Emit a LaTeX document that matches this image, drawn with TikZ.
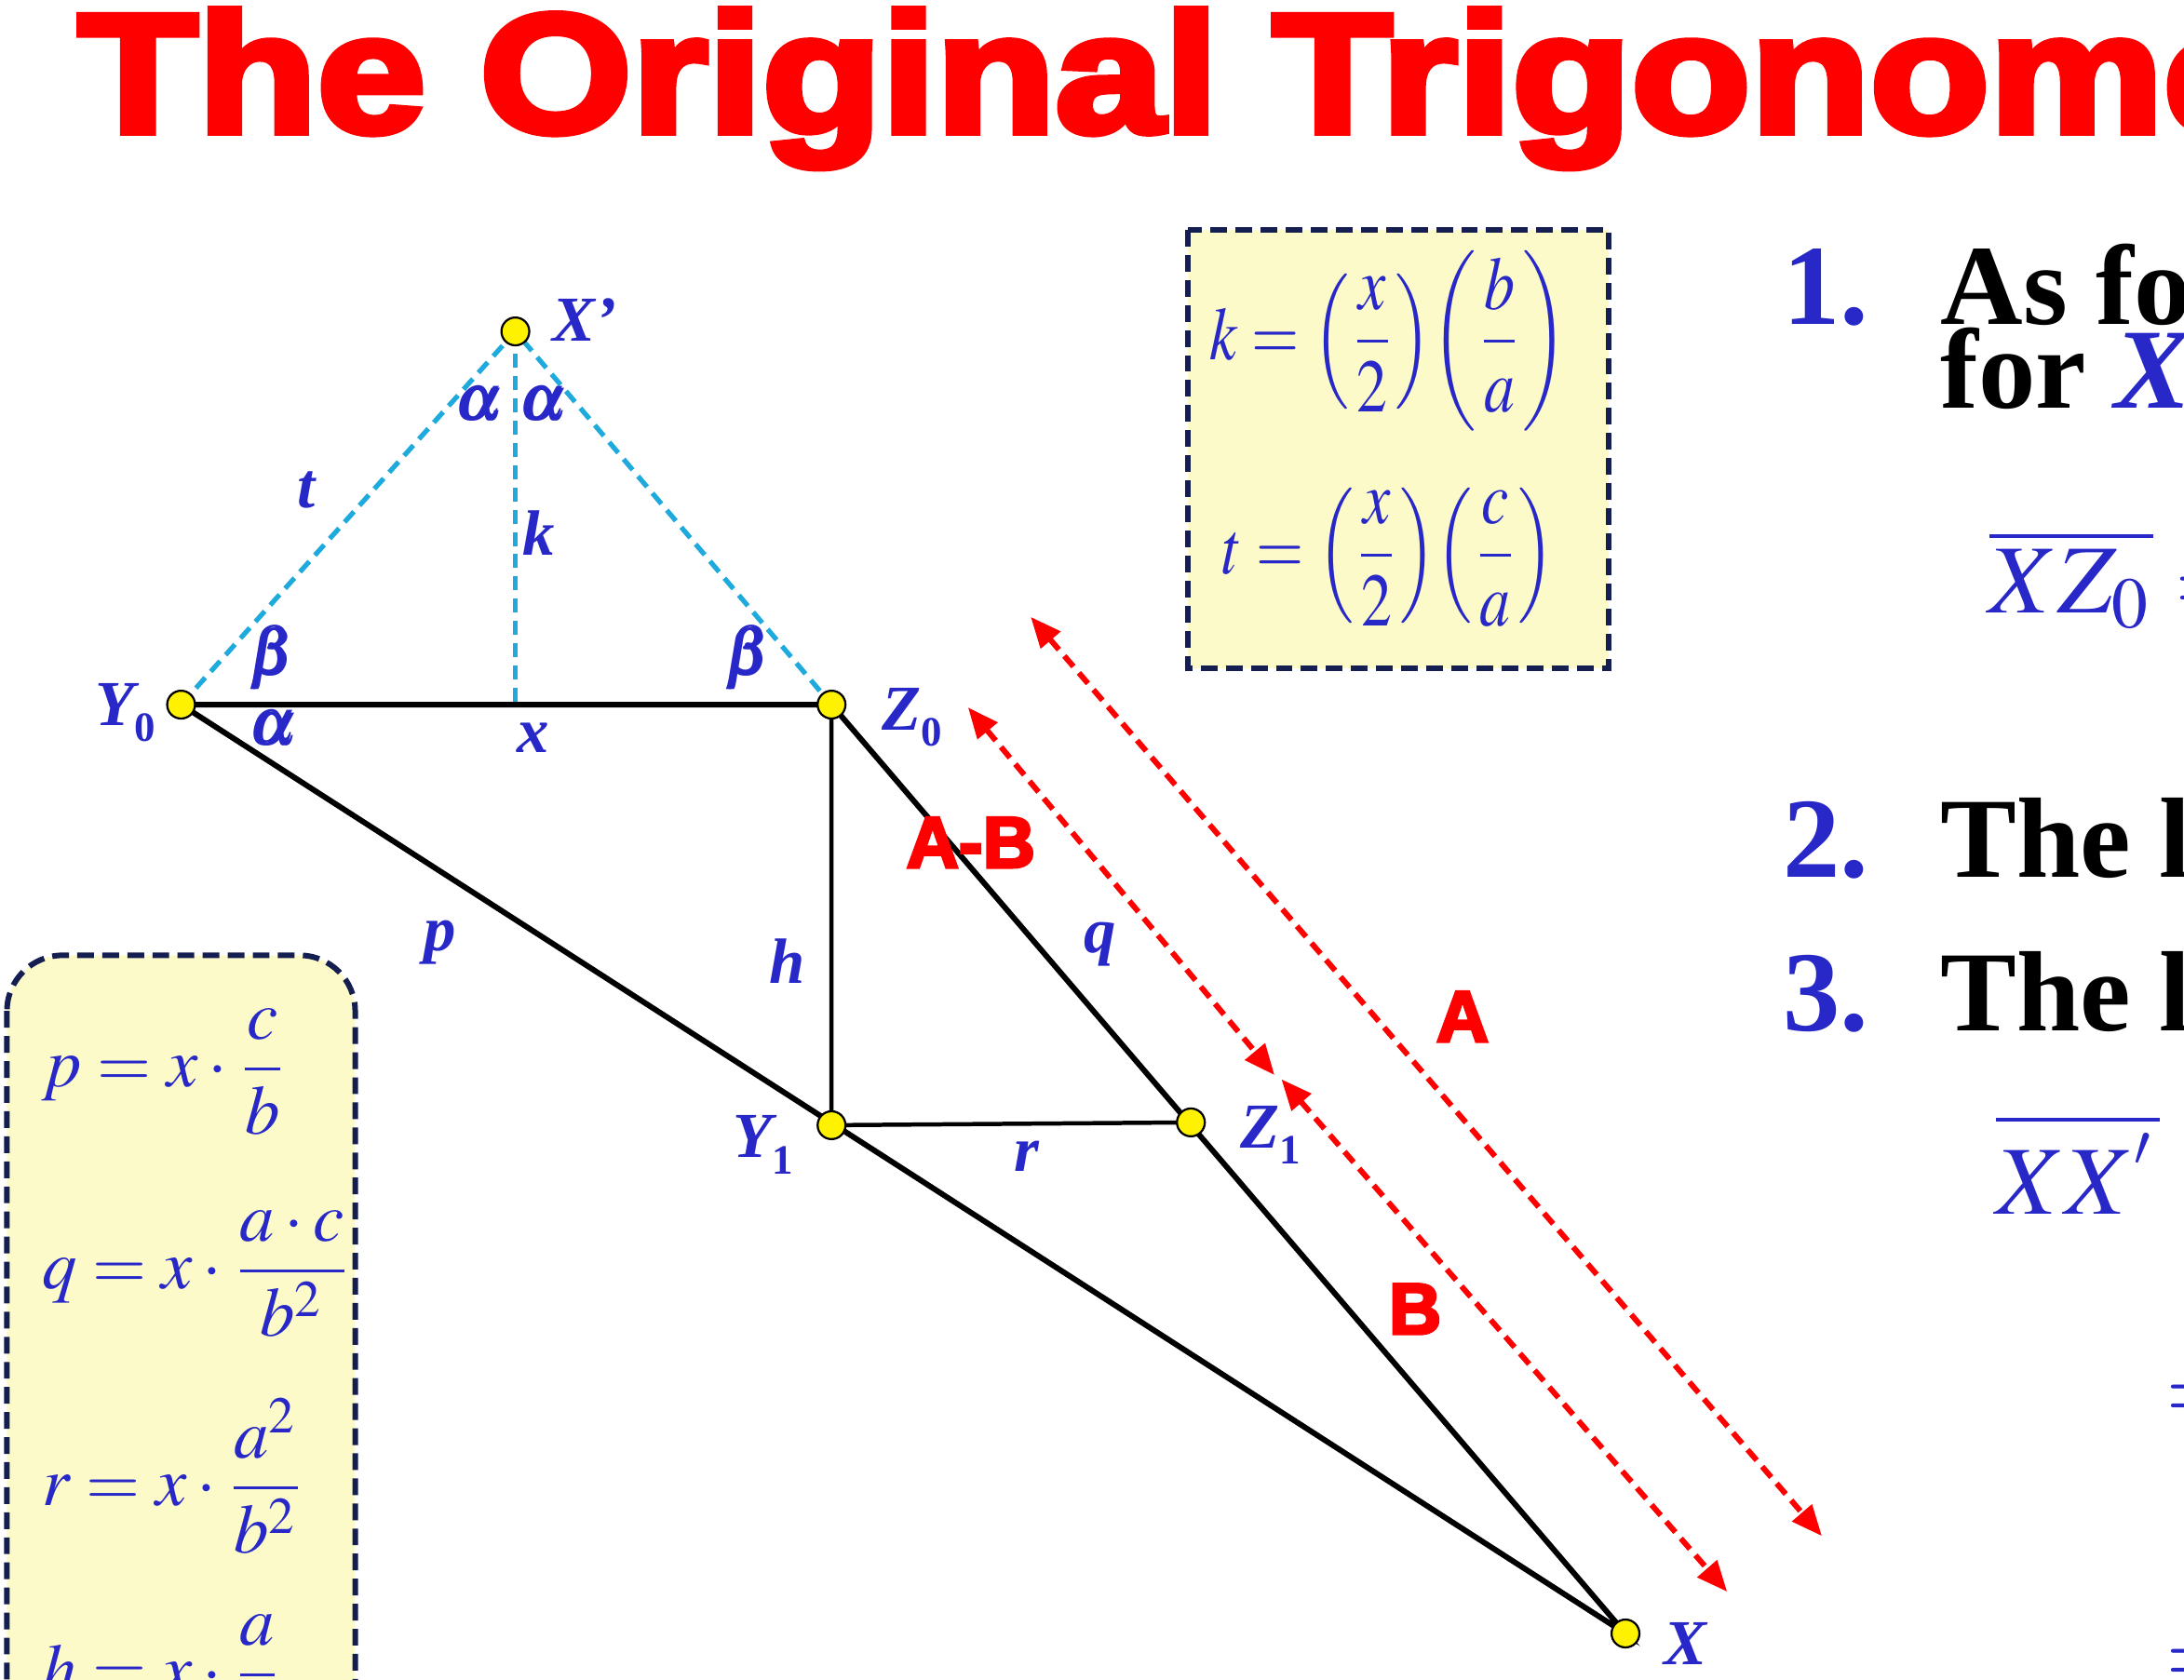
\documentclass[tikz,border=0pt]{standalone}
\usepackage{amsmath,amssymb}
\usepackage{mathptmx}
\usepackage{bm}
\usepackage{graphicx}
\usepackage{fontspec}
\setmainfont{Liberation Serif}
\newfontfamily\titlefont[FakeBold=4]{Liberation Sans Bold}
\usetikzlibrary{arrows.meta}
\definecolor{lblue}{RGB}{40,40,200}
\definecolor{cy}{RGB}{30,170,220}
\definecolor{navy}{RGB}{20,30,80}
\definecolor{boxy}{RGB}{252,250,200}
\newcommand\sbx[1]{\raisebox{-0.25em}{\fontsize{30}{30}\selectfont\bfseries\upshape #1}}
\tikzset{
 pt/.style={circle,draw=black,fill=yellow,inner sep=0pt,minimum size=20pt,line width=1.5pt},
 lab/.style={text=lblue,font=\fontsize{46}{46}\selectfont\bfseries\itshape},
 edge/.style={line width=4pt,black},
 thin/.style={line width=3pt,black},
 cyd/.style={line width=3.5pt,cy,dash pattern=on 10pt off 6pt},
 redarr/.style={line width=4pt,red,dash pattern=on 10pt off 6pt,{Triangle[length=22pt,width=18pt]}-{Triangle[length=22pt,width=18pt]}},
 rlab/.style={text=red,font=\fontsize{52}{52}\selectfont\titlefont},
 fbox/.style={draw=navy,line width=4pt,fill=boxy,dash pattern=on 12pt off 6pt},
 big/.style={font=\fontsize{82}{82}\selectfont\bfseries,anchor=base west,inner sep=0pt},
 mth/.style={text=lblue,inner sep=0pt},
}
\begin{document}
\begin{tikzpicture}[x=1pt,y=-1pt]
\useasboundingbox (0,0) rectangle (1568,1206);
\clip (0,0) rectangle (1568,1206);
\node[anchor=base west,text=red,inner sep=0pt,font=\fontsize{122}{122}\selectfont\titlefont] (title) at (56,95) {\scalebox{1.15}[1]{The Original Trigonometry}};
% boxes
\draw[fbox] (853,165) rectangle (1155,480);
\node[mth] (kf) at (997,245) {\scalebox{4.4}[5.4]{$k=\left(\dfrac{x}{2}\right)\!\left(\dfrac{b}{a}\right)$}};
\node[mth] (tf) at (997,400) {\scalebox{4.4}[5.4]{$t=\left(\dfrac{x}{2}\right)\!\left(\dfrac{c}{a}\right)$}};
\draw[fbox,rounded corners=40pt] (5,686) rectangle (255,1260);
\node[mth,anchor=west] (pf) at (30,770) {\scalebox{5}{$p=x\cdot\dfrac{c}{b}$}};
\node[mth,anchor=west] (qf) at (30,915) {\scalebox{5}{$q=x\cdot\dfrac{a\cdot c}{b^2}$}};
\node[mth,anchor=west] (rf) at (30,1060) {\scalebox{5}{$r=x\cdot\dfrac{a^2}{b^2}$}};
\node[mth,anchor=west] (hf) at (30,1205) {\scalebox{5}{$h=x\cdot\dfrac{a}{b}$}};
% points
\coordinate (F) at (370,506);
\coordinate (Xp) at (370,238);
\coordinate (Y0) at (130,506);
\coordinate (Z0) at (597,506);
\coordinate (Y1) at (597,808);
\coordinate (Z1) at (855,806);
\coordinate (X) at (1167,1173);
\draw[cyd] (Y0)--(Xp)--(Z0);
\draw[cyd] (Xp)--(F);
\draw[edge] (Y0)--(Z0)--(X)--(Y0);
\draw[thin] (Z0)--(Y1)--(Z1);
\foreach \p in {Xp,Y0,Z0,Y1,Z1,X} \node[pt] at (\p) {};
% red arrows
\coordinate (a1) at (695,508); \coordinate (a2) at (915,772);
\coordinate (b1) at (920,775); \coordinate (b2) at (1240,1143);
\coordinate (c1) at (740,443); \coordinate (c2) at (1308,1103);
\draw[redarr] (a1)--(a2);
\draw[redarr] (b1)--(b2);
\draw[redarr] (c1)--(c2);
\node[rlab] (lab) at (697,605) {A-B};
\node[rlab] (lb) at (1016,940) {B};
\node[rlab] (la) at (1050,730) {A};
% labels
\node[lab] (lXp) at (420,230) {X'};
\node[lab] (lY0) at (90,512) {Y\sbx{0}};
\node[lab] (lZ0) at (655,515) {Z\sbx{0}};
\node[lab] (lY1) at (548,822) {Y\sbx{1}};
\node[lab] (lZ1) at (912,815) {Z\sbx{1}};
\node[lab] (lX) at (1210,1180) {X};
\node[lab] at (344,290) {$\bm\alpha$};
\node[lab] at (390,290) {$\bm\alpha$};
\node[lab] at (220,352) {t};
\node[lab] at (387,383) {k};
\node[lab] at (195,472) {$\bm\beta$};
\node[lab] at (537,472) {$\bm\beta$};
\node[lab] at (196,523) {$\bm\alpha$};
\node[lab] at (383,530) {x};
\node[lab] at (316,677) {p};
\node[lab] at (565,690) {h};
\node[lab] at (790,678) {q};
\node[lab] at (737,830) {r};
% right text
\node[big,text=lblue] (n1) at (1280,233) {1.};
\node[big] (t1) at (1393,233) {As follows};
\node[big] (t1b) at (1393,293) {for \textcolor{lblue}{\itshape X}};
\node[mth,anchor=base west] (e1) at (1428,440) {\scalebox{7}{$\overline{XZ_0}=$}};
\node[big,text=lblue] (n2) at (1280,630) {2.};
\node[big] (t2) at (1393,630) {The length};
\node[big,text=lblue] (n3) at (1280,740) {3.};
\node[big] (t3) at (1393,740) {The length};
\node[mth,anchor=base west] (e2) at (1433,872) {\scalebox{7}{$\overline{XX^{'}}=$}};
\node[mth,anchor=base west] (e3) at (1555,1020) {\scalebox{7}{$=$}};
\node[mth,anchor=base west] (e4) at (1555,1210) {\scalebox{7}{$=$}};
\end{tikzpicture}
\end{document}
